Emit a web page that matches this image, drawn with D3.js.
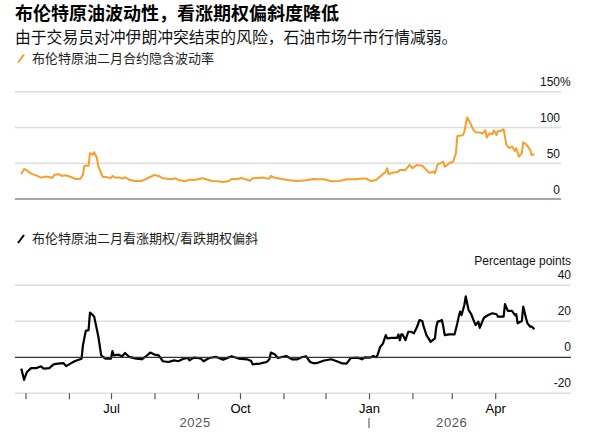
<!DOCTYPE html>
<html>
<head>
<meta charset="utf-8">
<script src="https://cdn.jsdelivr.net/npm/d3@7"></script>
<style>
  html, body { margin: 0; padding: 0; background: #fff; }
  svg { display: block; }
  .cjk { font-family: "Noto Sans CJK SC", "Noto Sans", sans-serif; }
  .lat { font-family: "Liberation Sans", Arial, sans-serif; }
</style>
</head>
<body>
<svg id="chart" width="594" height="434"></svg>
<script>
// ---------- data ----------
const title = "布伦特原油波动性，看涨期权偏斜度降低";
const subtitle = "由于交易员对冲伊朗冲突结束的风险，石油市场牛市行情减弱。";
const volLabel = "布伦特原油二月合约隐含波动率";
const skewLabel = "布伦特原油二月看涨期权/看跌期权偏斜";
const skewUnit = "Percentage points";

const volTicks = [0, 50, 100, 150];
const skewTicks = [-20, 0, 20, 40];
const monthLabels = {6: "Jul", 9: "Oct", 0: "Jan", 3: "Apr"};
const yearLabels = ["2025", "2026"];

const volDates = ["2025-04-28","2025-04-30","2025-05-02","2025-05-05","2025-05-09","2025-05-12","2025-05-15","2025-05-18","2025-05-20","2025-05-22","2025-05-25","2025-05-27","2025-05-29","2025-06-01","2025-06-04","2025-06-06","2025-06-09","2025-06-11","2025-06-12","2025-06-15","2025-06-16","2025-06-18","2025-06-19","2025-06-21","2025-06-22","2025-06-25","2025-06-28","2025-07-01","2025-07-02","2025-07-04","2025-07-07","2025-07-09","2025-07-11","2025-07-14","2025-07-18","2025-07-23","2025-07-27","2025-08-01","2025-08-04","2025-08-07","2025-08-13","2025-08-16","2025-08-18","2025-08-23","2025-08-26","2025-08-29","2025-09-01","2025-09-04","2025-09-06","2025-09-11","2025-09-15","2025-09-19","2025-09-23","2025-09-25","2025-09-29","2025-10-02","2025-10-06","2025-10-08","2025-10-10","2025-10-14","2025-10-18","2025-10-20","2025-10-22","2025-10-23","2025-10-25","2025-10-31","2025-11-05","2025-11-11","2025-11-17","2025-11-22","2025-11-25","2025-11-30","2025-12-05","2025-12-11","2025-12-16","2025-12-23","2025-12-27","2025-12-30","2026-01-02","2026-01-06","2026-01-09","2026-01-11","2026-01-13","2026-01-14","2026-01-15","2026-01-18","2026-01-22","2026-01-23","2026-01-27","2026-01-28","2026-01-30","2026-02-01","2026-02-04","2026-02-08","2026-02-11","2026-02-13","2026-02-16","2026-02-17","2026-02-19","2026-02-21","2026-02-23","2026-02-24","2026-02-26","2026-02-27","2026-03-02","2026-03-04","2026-03-05","2026-03-09","2026-03-10","2026-03-12","2026-03-14","2026-03-16","2026-03-18","2026-03-21","2026-03-23","2026-03-25","2026-03-26","2026-03-28","2026-03-30","2026-03-31","2026-04-02","2026-04-03","2026-04-05","2026-04-07","2026-04-09","2026-04-11","2026-04-13","2026-04-15","2026-04-16","2026-04-18","2026-04-20","2026-04-21","2026-04-23","2026-04-26","2026-04-27","2026-04-29"];
const volValues = [35,42,40,35.5,32.7,29.9,31.3,30.8,29.4,34,34.6,32.2,33.2,31.8,29.4,28,28,33.6,46.6,46.6,64,62,65.4,57,45.2,31.2,30.4,29.4,32.2,29.9,29.9,28.5,30.4,27,25.2,25.2,29,33.6,32.2,29,27.6,29,26.6,24.8,27,26.6,27.6,29,28,
  25.2,24.8,23.8,25.2,28,28,29.4,27,25.6,29,29.4,29.9,28.5,28.5,32.2,29.9,28,26.2,25.2,26.2,28,27.6,27.6,24.8,25.2,27.6,27.6,28.5,28.5,25.2,26.6,31.5,35,38.2,43,35,36.8,38.2,40.6,40.6,43,47.6,43,47.6,46.6,40.6,36.8,38.2,36,48.6,50,52.2,45.2,47.6,50,52.2,64,88.2,89.2,94.3,113.9,107.4,98,93.4,92.9,91.5,96.2,85.9,92,90.6,95.7,89.6,95.2,95.2,97.6,75.6,71,73.2,67.2,71,59.2,64,79.4,76.6,68.6,61.6,63];

const skewDates = ["2025-04-28","2025-04-30","2025-05-02","2025-05-05","2025-05-09","2025-05-12","2025-05-14","2025-05-18","2025-05-21","2025-05-24","2025-05-28","2025-05-30","2025-06-02","2025-06-05","2025-06-09","2025-06-10","2025-06-11","2025-06-13","2025-06-15","2025-06-16","2025-06-18","2025-06-19","2025-06-22","2025-06-24","2025-06-27","2025-07-01","2025-07-02","2025-07-03","2025-07-06","2025-07-09","2025-07-11","2025-07-14","2025-07-19","2025-07-23","2025-07-26","2025-07-29","2025-08-01","2025-08-04","2025-08-07","2025-08-11","2025-08-15","2025-08-18","2025-08-22","2025-08-25","2025-08-26","2025-08-29","2025-09-01","2025-09-03","2025-09-05","2025-09-09","2025-09-14","2025-09-19","2025-09-25","2025-09-30","2025-10-06","2025-10-09","2025-10-10","2025-10-15","2025-10-20","2025-10-22","2025-10-23","2025-10-26","2025-10-28","2025-11-03","2025-11-07","2025-11-11","2025-11-14","2025-11-17","2025-11-20","2025-11-22","2025-11-25","2025-11-30","2025-12-05","2025-12-09","2025-12-13","2025-12-16","2025-12-19","2025-12-24","2025-12-27","2025-12-29","2026-01-02","2026-01-04","2026-01-06","2026-01-07","2026-01-09","2026-01-11","2026-01-13","2026-01-14","2026-01-17","2026-01-21","2026-01-22","2026-01-23","2026-01-24","2026-01-25","2026-01-27","2026-01-29","2026-01-31","2026-02-02","2026-02-04","2026-02-06","2026-02-08","2026-02-09","2026-02-11","2026-02-14","2026-02-17","2026-02-18","2026-02-19","2026-02-21","2026-02-22","2026-02-23","2026-02-24","2026-02-27","2026-03-03","2026-03-05","2026-03-06","2026-03-07","2026-03-08","2026-03-10","2026-03-11","2026-03-13","2026-03-15","2026-03-16","2026-03-18","2026-03-20","2026-03-21","2026-03-23","2026-03-24","2026-03-27","2026-03-30","2026-04-02","2026-04-03","2026-04-07","2026-04-08","2026-04-10","2026-04-13","2026-04-15","2026-04-16","2026-04-17","2026-04-20","2026-04-21","2026-04-23","2026-04-24","2026-04-26","2026-04-27","2026-04-29"];
const skewValues = [-6.3,-12.5,-8.2,-6,-6,-5,-6.3,-6,-3.9,-3.5,-3.2,-4.9,-3.5,-2.2,-1.1,-0.7,6.7,14.7,15.1,24.8,23.5,22.6,11.4,1.1,-0.7,-0.7,3.4,1.1,1.5,0.6,2.4,0.2,-0.7,-1.1,0.6,2.6,1.5,1.1,-2.2,-2.6,-1.7,-2.2,-0.7,-0.4,-1.7,-0.2,-0.4,-0.7,-2.2,-0.4,0.2,-1.3,0.6,-0.7,-1.1,-2.1,-3.9,-3.5,-2.6,-1.1,2.6,1.5,-0.4,0.7,-1.1,-1.1,0,0.6,-2.6,-3.2,-3.2,-1.8,-1.1,-2.2,-3.4,-3.5,-0.4,-0.2,-1.1,0,
  -0.2,0.7,0,1.1,5.8,7.7,12.3,10.5,10.8,10.8,12.7,9.5,12.7,12.7,9.5,14.2,14.2,13.3,16.4,20.7,20.2,17,12.3,8.6,10.5,17,19.8,20.2,20.7,17,12.3,12.7,12.7,18.9,22.6,25.4,23.5,29.1,33.8,26.3,23.9,21.7,17.9,19.8,16.4,20.2,22,23.5,24.5,23.9,22.6,22.6,29.5,25.8,25.8,23.5,24,18.9,20.2,28.2,21.7,18.9,17,17,15.7];

// ---------- setup ----------
const parse = d3.utcParse("%Y-%m-%d");
const vol = volDates.map((d, i) => ({date: parse(d), value: volValues[i]}));
const skew = skewDates.map((d, i) => ({date: parse(d), value: skewValues[i]}));

const svg = d3.select("#chart");
const ORANGE = "#f99d2b";

// x scale shared by both panels
const x = d3.scaleUtc()
  .domain([new Date(Date.UTC(2025, 6, 1)), new Date(Date.UTC(2026, 0, 1))])
  .range([111, 369]);

const left = 15, rightTop = 561, rightBot = 571;

// ---------- titles ----------
svg.append("text").attr("class", "cjk").attr("x", 15).attr("y", 20)
  .attr("font-size", 18).attr("font-weight", 700).attr("fill", "#000").text(title);
svg.append("text").attr("class", "cjk").attr("x", 15).attr("y", 43)
  .attr("font-size", 15.8).attr("fill", "#111").text(subtitle);

// legend helper
function legend(y, color, label) {
  svg.append("line").attr("x1", 18).attr("y1", y + 4.5).attr("x2", 24).attr("y2", y - 3.5)
    .attr("stroke", color).attr("stroke-width", 2).attr("stroke-linecap", "butt");
  svg.append("text").attr("class", "cjk").attr("x", 32).attr("y", y + 4.5)
    .attr("font-size", 13).attr("fill", "#222").text(label);
}
legend(58, ORANGE, volLabel);
legend(238.5, "#000", skewLabel);

// ---------- top panel ----------
const yTop = d3.scaleLinear().domain([0, 150]).range([199, 91.7]);
const gTop = svg.append("g");
gTop.selectAll("line.grid").data(volTicks.filter(d => d !== 0)).join("line")
  .attr("x1", left).attr("x2", rightTop)
  .attr("y1", d => yTop(d)).attr("y2", d => yTop(d))
  .attr("stroke", "#dedede").attr("stroke-width", 1.5);
gTop.append("line").attr("x1", left).attr("x2", rightTop)
  .attr("y1", yTop(0)).attr("y2", yTop(0)).attr("stroke", "#8a8a8a").attr("stroke-width", 1.5);
gTop.selectAll("text.tick").data(volTicks).join("text")
  .attr("class", "lat").attr("x", 560).attr("y", d => yTop(d) - 5.5)
  .attr("text-anchor", "end").attr("font-size", 12).attr("fill", "#111")
  .text(d => d);
gTop.append("text").attr("class", "lat").attr("x", 560).attr("y", yTop(150) - 5.5)
  .attr("font-size", 12).attr("fill", "#111").text("%");

gTop.append("path").datum(vol)
  .attr("fill", "none").attr("stroke", ORANGE).attr("stroke-width", 2)
  .attr("stroke-linejoin", "round")
  .attr("d", d3.line().x(d => x(d.date)).y(d => yTop(d.value)));

// ---------- bottom panel ----------
const yBot = d3.scaleLinear().domain([-20, 40]).range([393.3, 285.3]);
const gBot = svg.append("g");
gBot.selectAll("line.grid").data(skewTicks.filter(d => d !== 0)).join("line")
  .attr("x1", left).attr("x2", rightBot)
  .attr("y1", d => yBot(d)).attr("y2", d => yBot(d))
  .attr("stroke", "#dedede").attr("stroke-width", 1.5);
gBot.selectAll("text.tick").data(skewTicks).join("text")
  .attr("class", "lat").attr("x", 571).attr("y", d => yBot(d) - 6)
  .attr("text-anchor", "end").attr("font-size", 12).attr("fill", "#111")
  .text(d => d);
gBot.append("text").attr("class", "lat").attr("x", 571).attr("y", 264.5)
  .attr("text-anchor", "end").attr("font-size", 12).attr("fill", "#111").text(skewUnit);

gBot.append("path").datum(skew)
  .attr("fill", "none").attr("stroke", "#000").attr("stroke-width", 2.2)
  .attr("stroke-linejoin", "round")
  .attr("d", d3.line().x(d => x(d.date)).y(d => yBot(d.value)));

gBot.append("line").attr("x1", left).attr("x2", rightBot)
  .attr("y1", yBot(0)).attr("y2", yBot(0)).attr("stroke", "#333").attr("stroke-width", 1.2);

// ---------- x axis ----------
const months = d3.utcMonth.range(new Date(Date.UTC(2025, 4, 1)), new Date(Date.UTC(2026, 4, 1)));
const axis = d3.axisBottom(x).tickValues(months).tickSize(6).tickPadding(4)
  .tickFormat(d => monthLabels[d.getUTCMonth()] || "");
const gAx = svg.append("g").attr("transform", `translate(0,${yBot(-20)})`).call(axis);
gAx.select(".domain").remove();
gAx.selectAll(".tick line").attr("stroke", "#555").attr("stroke-width", 1.2);
gAx.selectAll(".tick text").attr("font-family", "Liberation Sans, Arial, sans-serif")
  .attr("font-size", 13).attr("fill", "#000");

const jan = new Date(Date.UTC(2026, 0, 1));
const first = vol[0].date, last = vol[vol.length - 1].date;
svg.append("line").attr("x1", x(jan)).attr("x2", x(jan)).attr("y1", 418).attr("y2", 428)
  .attr("stroke", "#666").attr("stroke-width", 1.2);
svg.selectAll("text.year").data(yearLabels).join("text")
  .attr("class", "lat")
  .attr("x", (d, i) => i === 0 ? (x(first) + x(jan)) / 2 : (x(jan) + x(last)) / 2)
  .attr("y", 427).attr("text-anchor", "middle").attr("font-size", 13)
  .attr("letter-spacing", 0.6).attr("fill", "#555").text(d => d);
</script>
</body>
</html>
